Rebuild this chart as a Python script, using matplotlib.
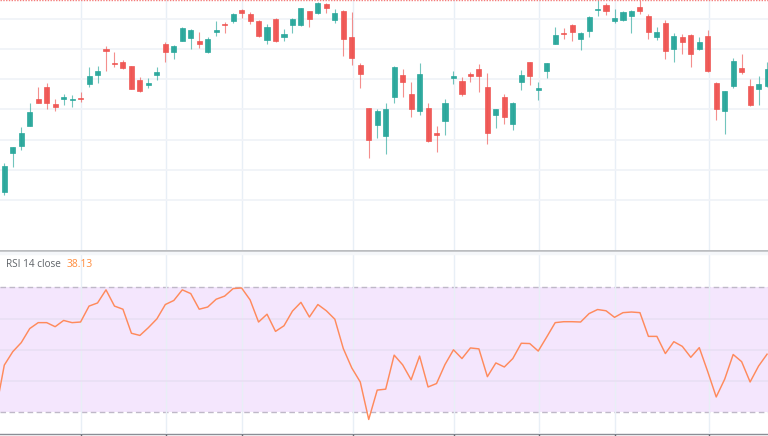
#!/usr/bin/env python3
"""Candlestick chart with an RSI pane below it."""
import matplotlib
matplotlib.use("Agg")
import matplotlib.pyplot as plt

highs = [86.7, 103.3, 122.7, 147.3, 162.7, 166.7, 150.7, 156.0, 155.3, 157.7,
         183.3, 184.0, 204.0, 197.7, 190.0, 184.3, 173.3, 171.7, 183.3, 208.3,
         205.0, 222.7, 221.0, 217.7, 212.7, 229.3, 228.3, 236.7, 240.7, 237.7,
         230.0, 226.0, 231.7, 220.7, 231.7, 242.0, 239.0, 248.0, 246.7, 240.7,
         240.0, 238.0, 186.7, 142.3, 140.7, 147.3, 183.7, 180.7, 168.0, 187.3,
         146.7, 123.7, 151.3, 179.0, 173.3, 178.0, 185.7, 176.7, 141.0, 156.0,
         148.3, 180.0, 188.0, 168.3, 187.3, 222.7, 221.7, 226.0, 218.0, 233.7,
         250.0, 247.3, 240.7, 238.7, 240.0, 250.0, 236.0, 223.3, 230.0, 217.3,
         216.0, 216.0, 213.3, 219.7, 167.7, 159.3, 191.7, 195.7, 170.7, 173.7, 188.0]
lows = [55.0, 83.3, 100.0, 124.0, 147.3, 141.0, 138.7, 145.0, 143.3, 148.3,
        163.3, 166.7, 179.3, 183.0, 181.0, 160.7, 158.3, 162.3, 170.0, 188.0,
        191.0, 209.0, 200.7, 202.0, 197.3, 214.3, 217.3, 227.0, 232.3, 226.3,
        213.3, 206.3, 207.7, 209.0, 217.3, 224.0, 223.3, 236.0, 237.3, 227.0,
        194.3, 184.7, 161.7, 92.3, 111.7, 95.7, 147.3, 153.3, 133.0, 135.3,
        108.3, 98.0, 115.3, 166.0, 154.0, 168.0, 158.3, 106.3, 122.0, 125.7,
        120.0, 160.0, 165.3, 150.0, 171.7, 205.7, 211.0, 209.3, 200.0, 213.3,
        234.0, 235.3, 226.7, 228.7, 217.3, 236.3, 210.7, 210.3, 190.7, 188.0,
        196.3, 183.0, 200.3, 178.3, 129.7, 116.0, 161.7, 175.7, 144.0, 144.7, 163.3]
opens = [58.3, 97.3, 104.3, 124.3, 151.3, 163.3, 146.0, 150.7, 149.7, 152.3,
         166.0, 174.7, 201.3, 187.3, 187.7, 183.7, 169.7, 164.7, 174.7, 206.0,
         198.0, 209.3, 212.0, 208.7, 197.7, 218.3, 226.3, 229.3, 240.0, 236.0,
         229.0, 209.7, 231.3, 213.0, 224.7, 224.7, 238.7, 236.7, 246.0, 230.3,
         238.7, 213.3, 185.3, 141.7, 124.7, 113.7, 152.7, 175.0, 156.0, 139.0,
         141.7, 117.0, 129.3, 172.3, 169.3, 175.7, 180.7, 163.0, 135.0, 152.7,
         126.0, 168.3, 187.7, 159.7, 179.3, 206.3, 217.3, 225.3, 211.0, 219.0,
         240.3, 245.0, 229.3, 230.3, 234.3, 242.7, 233.7, 213.0, 226.7, 200.7,
         213.3, 215.0, 200.7, 214.0, 167.0, 139.0, 164.0, 182.3, 163.7, 161.0, 164.0]
closes = [84.3, 103.0, 116.7, 137.7, 147.3, 146.7, 143.3, 153.0, 151.0, 150.7,
          174.3, 179.0, 199.3, 186.0, 182.3, 161.0, 159.3, 167.3, 178.3, 197.7,
          204.3, 222.0, 220.3, 206.3, 210.7, 220.3, 225.3, 236.3, 236.7, 228.7,
          214.0, 222.7, 209.3, 215.7, 231.3, 241.7, 231.3, 246.7, 242.3, 237.0,
          211.3, 192.3, 175.7, 109.7, 139.3, 140.7, 183.0, 167.7, 141.3, 176.0,
          109.3, 115.0, 147.3, 173.7, 156.3, 174.3, 173.7, 117.0, 140.7, 132.7,
          147.3, 175.0, 173.7, 161.7, 187.0, 214.7, 216.0, 217.7, 217.3, 233.3,
          241.3, 239.0, 232.3, 237.7, 239.3, 239.0, 217.7, 218.0, 199.3, 214.0,
          208.3, 196.3, 207.7, 179.0, 140.7, 159.0, 188.7, 178.3, 144.7, 165.7, 180.7]
rsi = [30.6, 45.1, 49.4, 52.3, 56.8, 58.7, 58.7, 57.4, 59.4, 58.7, 58.9,
       64.0, 65.0, 69.2, 64.0, 63.0, 55.3, 54.6, 57.1, 59.9, 64.5,
       65.8, 69.2, 68.0, 63.0, 63.7, 66.2, 67.2, 69.6, 69.8, 66.0,
       58.9, 61.4, 55.9, 57.7, 62.4, 65.2, 60.5, 64.5, 62.5, 59.8,
       50.4, 44.2, 39.7, 27.7, 37.1, 37.4, 48.3, 45.2, 40.4, 48.0,
       38.1, 39.2, 45.3, 50.0, 47.2, 50.6, 50.3, 41.4, 45.8, 44.5,
       47.2, 52.1, 52.0, 49.6, 54.1, 58.7, 59.0, 59.0, 58.9, 61.6,
       62.9, 62.5, 60.4, 61.9, 62.1, 61.9, 54.3, 54.3, 48.8, 52.6,
       51.1, 47.6, 50.7, 43.0, 34.9, 40.6, 48.5, 46.2, 39.7, 44.8, 48.6]
rsiStart = -1
dateBars = [9.1, 19.1, 28.1, 41.1, 53.1, 63.1, 72.1, 83.1]
priceGrid = [50, 80, 110, 141, 171, 201, 231]
rsiGrid = [40, 50, 60]
priceLine = 249.6
lastRsi = "38.13"

UP = "#26a69a"
DOWN = "#ef5350"
GRID = "#f0f3f8"
VGRID = "#e8eff6"
BAND = "#f4e6fd"
RSI_LINE = "#ff8a5c"
W, H = 768, 436

fig = plt.figure(figsize=(W / 100, H / 100), dpi=100, facecolor="white")
axP = fig.add_axes([0, (H - 250) / H, 1, 250 / H])
axR = fig.add_axes([0, (H - 433.5) / H, 1, 180.5 / H])

for ax in (axP, axR):
    ax.set_xlim(-0.507, 90.11)
    ax.set_xticks(dateBars)
    ax.grid(True, axis="x", color=VGRID, linewidth=1.0, zorder=0)
    for name in ("left", "right", "top"):
        ax.spines[name].set_visible(False)

axP.set_ylim(0, 250)
axP.set_yticks(priceGrid)
axP.grid(True, axis="y", color=GRID, linewidth=1.3, zorder=0)
axP.tick_params(left=False, bottom=False, labelleft=False, labelbottom=False)
axP.spines["bottom"].set_visible(False)

for i, (o, h, l, c) in enumerate(zip(opens, highs, lows, closes)):
    color = UP if c >= o else DOWN
    axP.vlines(i, l, h, color=color, linewidth=0.8, alpha=0.65, zorder=3)
    axP.bar(i, max(abs(c - o), 1.0), bottom=min(o, c), width=0.6, color=color,
            edgecolor=color, linewidth=0.5, alpha=0.95, zorder=4)
axP.axhline(priceLine, color="#f47c7a", linewidth=1.0, linestyle=(0, (1, 1)), zorder=5)

axR.set_ylim(23.2, 81.0)
axR.set_yticks(rsiGrid)
axR.axhspan(30, 70, facecolor=BAND, edgecolor="none", zorder=0)
axR.grid(True, axis="y", color="#e8dff3", linewidth=1.1, zorder=1)
axR.set_axisbelow(False)
for level in (30, 70):
    axR.axhline(level, color="#bfb8c8", linewidth=1.0, linestyle=(0, (4, 2.5)), zorder=2)
axR.plot(range(rsiStart, rsiStart + len(rsi)), rsi, color=RSI_LINE, linewidth=1.05, zorder=4)
axR.spines["bottom"].set_color("#8a8e96")
axR.spines["bottom"].set_linewidth(1.0)
axR.tick_params(left=False, labelleft=False, labelbottom=False, bottom=True,
                length=2.2, width=1.0, color="#666b73", direction="out")

# pane separator
fig.add_artist(plt.Line2D([0, 1], [(H - 250.8) / H] * 2, color="#b4b6ba", linewidth=1.3))
fig.add_artist(plt.Line2D([0, 1], [(H - 253.5) / H] * 2, color="#f5f7fa", linewidth=2.5))

fig.text(5.5 / W, (H - 264.5) / H, "RSI 14 close", color="#5f6368", fontsize=7.2,
         family="Open Sans", va="center")
fig.text(67 / W, (H - 264.5) / H, lastRsi, color="#ff8c3c", fontsize=7.4,
         family="Open Sans", va="center")

fig.savefig("out.png", dpi=100, facecolor="white")
plt.close(fig)
